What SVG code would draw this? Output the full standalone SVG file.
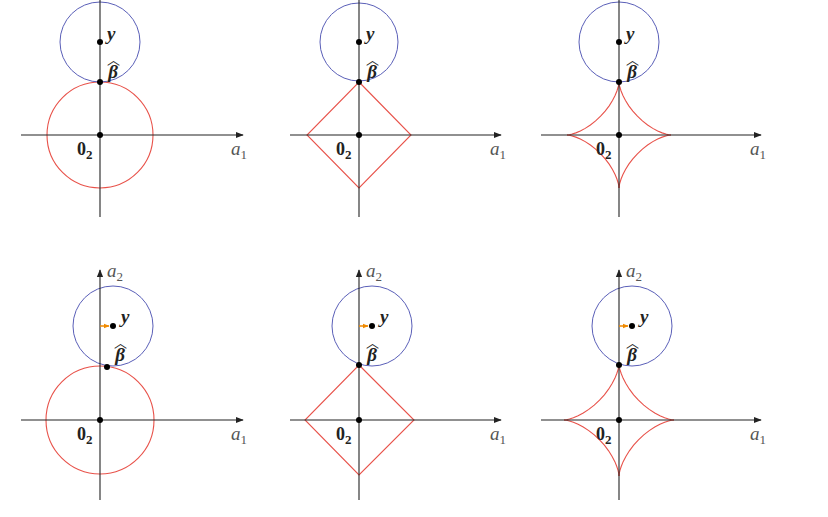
<svg xmlns="http://www.w3.org/2000/svg" width="828" height="517" viewBox="0 0 828 517">
<style>
.ax{stroke:#222;stroke-width:1.1;fill:none}
.red{stroke:#e8524a;stroke-width:1.1;fill:none}
.blue{stroke:#5a5fb8;stroke-width:1;fill:none}
.t{font-family:"Liberation Serif","DejaVu Serif",serif;fill:#222}
.lb{font-size:19px;font-weight:bold;font-style:italic}
.h{font-family:"Noto Sans CJK SC",sans-serif;font-size:13px;font-weight:normal;font-style:normal}
.ax1{font-size:19px;font-style:italic;fill:#555}
.o{font-size:18px;font-weight:bold}
.sub{font-size:13px;font-style:normal}
</style>
<defs>
<marker id="ar" viewBox="0 0 10 10" refX="9" refY="5" markerWidth="8" markerHeight="8" markerUnits="userSpaceOnUse" orient="auto"><path d="M0,1 L10,5 L0,9 z" fill="#222"/></marker>
<marker id="oa" viewBox="0 0 10 10" refX="9" refY="5" markerWidth="6" markerHeight="6" markerUnits="userSpaceOnUse" orient="auto"><path d="M0,1 L10,5 L0,9 z" fill="#f08a00"/></marker>
<path id="q" d="M100,0 L98.9,-0.07 95.5,-0.52 90.1,-1.73 83,-4 74.4,-7.55 65,-12.5 55,-18.9 45,-26.6 35.4,-35.4 26.6,-45 18.9,-55 12.5,-65 7.55,-74.4 4,-83 1.73,-90.1 0.52,-95.5 0.07,-98.9 0,-100" stroke="#e8524a" stroke-width="1.1" fill="none" vector-effect="non-scaling-stroke"/>
<g id="ast">
<use href="#q"/>
<use href="#q" transform="scale(-1,1)"/>
<use href="#q" transform="scale(1,-1)"/>
<use href="#q" transform="scale(-1,-1)"/>
</g>
</defs>
<rect width="828" height="517" fill="#fff"/>

<g id="panel-top-left">
<circle class="red" cx="100" cy="135" r="53"/>
<circle class="blue" cx="100" cy="42" r="40"/>
<line class="ax" x1="21" y1="135" x2="243" y2="135" marker-end="url(#ar)"/>
<line class="ax" x1="100" y1="0" x2="100" y2="217"/>
<circle cx="100" cy="42" r="3"/><circle cx="100" cy="82" r="3"/><circle cx="100" cy="135" r="3"/>
<text class="t lb" x="107" y="40">y</text>
<text class="t lb" x="107" y="78">β<tspan class="h" dx="-11" dy="-14">︿</tspan></text>
<text class="t o" x="77" y="155">0<tspan class="sub" dy="4">2</tspan></text>
<text class="t ax1" x="231" y="155">a<tspan class="sub" dy="4">1</tspan></text>
</g>

<g id="panel-top-middle">
<path class="red" d="M359,82 L411,135 L359,188 L307,135 Z"/>
<circle class="blue" cx="359" cy="42" r="39"/>
<line class="ax" x1="290" y1="135" x2="501" y2="135" marker-end="url(#ar)"/>
<line class="ax" x1="359" y1="0" x2="359" y2="217"/>
<circle cx="359" cy="42" r="3"/><circle cx="359" cy="82" r="3"/><circle cx="359" cy="135" r="3"/>
<text class="t lb" x="366" y="40">y</text>
<text class="t lb" x="366" y="78">β<tspan class="h" dx="-11" dy="-14">︿</tspan></text>
<text class="t o" x="336" y="155">0<tspan class="sub" dy="4">2</tspan></text>
<text class="t ax1" x="490" y="155">a<tspan class="sub" dy="4">1</tspan></text>
</g>

<g id="panel-top-right">
<use href="#ast" transform="translate(619,135) scale(0.52,0.53)"/>
<circle class="blue" cx="619" cy="42" r="40"/>
<line class="ax" x1="541" y1="135" x2="761" y2="135" marker-end="url(#ar)"/>
<line class="ax" x1="619" y1="0" x2="619" y2="217"/>
<circle cx="619" cy="42" r="3"/><circle cx="619" cy="82" r="3"/><circle cx="619" cy="135" r="3"/>
<text class="t lb" x="626" y="40">y</text>
<text class="t lb" x="626" y="78">β<tspan class="h" dx="-11" dy="-14">︿</tspan></text>
<text class="t o" x="596" y="155">0<tspan class="sub" dy="4">2</tspan></text>
<text class="t ax1" x="750" y="155">a<tspan class="sub" dy="4">1</tspan></text>
</g>

<g id="panel-bottom-left">
<circle class="red" cx="100" cy="420" r="54"/>
<circle class="blue" cx="113" cy="326" r="40"/>
<line class="ax" x1="21" y1="420" x2="243" y2="420" marker-end="url(#ar)"/>
<line class="ax" x1="100" y1="500" x2="100" y2="270" marker-end="url(#ar)"/>
<circle cx="113" cy="326" r="3"/><circle cx="107" cy="367" r="3"/><circle cx="100" cy="420" r="3"/>
<text class="t lb" x="121" y="323">y</text>
<text class="t lb" x="114" y="361">β<tspan class="h" dx="-11" dy="-14">︿</tspan></text>
<text class="t o" x="77" y="440">0<tspan class="sub" dy="4">2</tspan></text>
<text class="t ax1" x="231" y="440">a<tspan class="sub" dy="4">1</tspan></text>
<text class="t ax1" x="107" y="277">a<tspan class="sub" dy="4">2</tspan></text>
</g>

<g id="panel-bottom-middle">
<path class="red" d="M359,365 L414,420 L359,475 L305,420 Z"/>
<circle class="blue" cx="372" cy="326" r="40"/>
<line class="ax" x1="290" y1="420" x2="501" y2="420" marker-end="url(#ar)"/>
<line class="ax" x1="359" y1="500" x2="359" y2="270" marker-end="url(#ar)"/>
<circle cx="372" cy="326" r="3"/><circle cx="359" cy="365" r="3"/><circle cx="359" cy="420" r="3"/>
<text class="t lb" x="380" y="323">y</text>
<text class="t lb" x="366" y="361">β<tspan class="h" dx="-11" dy="-14">︿</tspan></text>
<text class="t o" x="336" y="440">0<tspan class="sub" dy="4">2</tspan></text>
<text class="t ax1" x="490" y="440">a<tspan class="sub" dy="4">1</tspan></text>
<text class="t ax1" x="366" y="277">a<tspan class="sub" dy="4">2</tspan></text>
</g>

<g id="panel-bottom-right">
<use href="#ast" transform="translate(619,420) scale(0.55,0.56)"/>
<circle class="blue" cx="632" cy="326" r="40"/>
<line class="ax" x1="541" y1="420" x2="761" y2="420" marker-end="url(#ar)"/>
<line class="ax" x1="619" y1="500" x2="619" y2="270" marker-end="url(#ar)"/>
<circle cx="632" cy="326" r="3"/><circle cx="619" cy="365" r="3"/><circle cx="619" cy="420" r="3"/>
<text class="t lb" x="640" y="323">y</text>
<text class="t lb" x="626" y="361">β<tspan class="h" dx="-11" dy="-14">︿</tspan></text>
<text class="t o" x="596" y="440">0<tspan class="sub" dy="4">2</tspan></text>
<text class="t ax1" x="750" y="440">a<tspan class="sub" dy="4">1</tspan></text>
<text class="t ax1" x="626" y="277">a<tspan class="sub" dy="4">2</tspan></text>
</g>

<g id="connectors">
<line x1="100" y1="326" x2="109" y2="326" stroke="#f08a00" stroke-width="1.5" marker-end="url(#oa)"/>
<line x1="359" y1="326" x2="368" y2="326" stroke="#f08a00" stroke-width="1.5" marker-end="url(#oa)"/>
<line x1="619" y1="326" x2="628" y2="326" stroke="#f08a00" stroke-width="1.5" marker-end="url(#oa)"/>
</g>
</svg>
